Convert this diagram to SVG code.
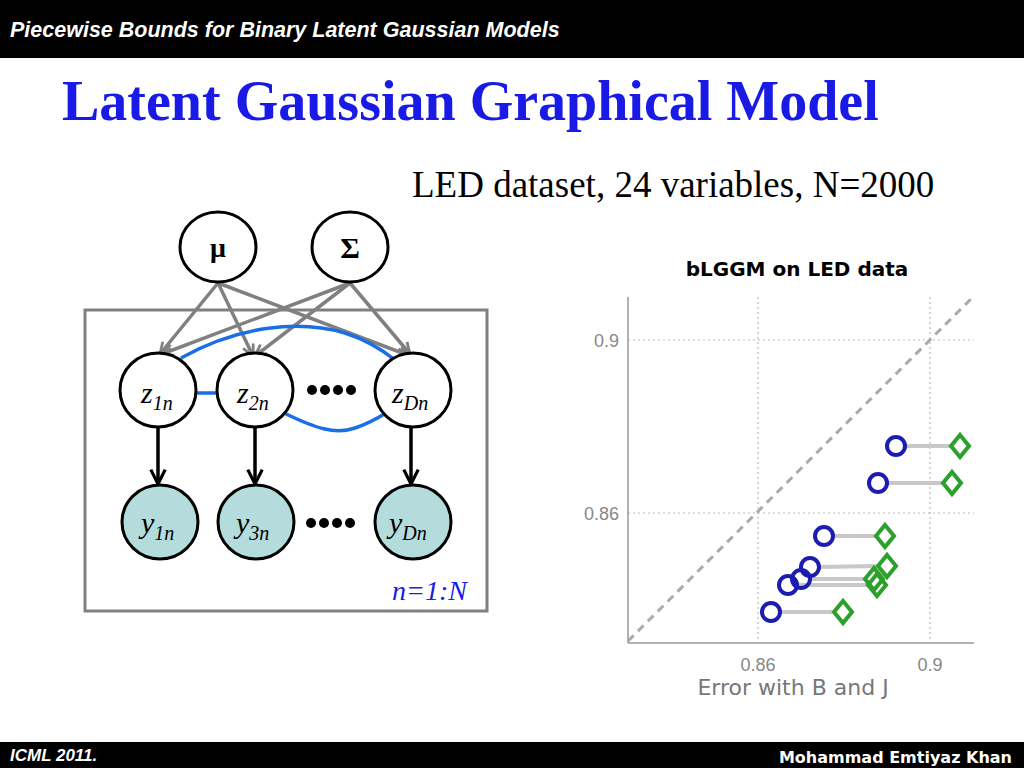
<svg xmlns="http://www.w3.org/2000/svg" width="1024" height="768" viewBox="0 0 1024 768">
<defs>
<marker id="ag" viewBox="0 0 10 10" refX="9" refY="5" markerWidth="14" markerHeight="14" orient="auto" markerUnits="userSpaceOnUse"><path d="M1,1 L9,5 L1,9" fill="none" stroke="#808080" stroke-width="2"/></marker>
<marker id="ab" viewBox="0 0 10 10" refX="9" refY="5" markerWidth="18" markerHeight="18" orient="auto" markerUnits="userSpaceOnUse"><path d="M1,1 L9,5 L1,9" fill="none" stroke="#000" stroke-width="1.8"/></marker>
<style>
.n{fill:#fff;stroke:#000;stroke-width:3}
.o{fill:#b4dcdc;stroke:#000;stroke-width:3}
.lbl{font-family:"Liberation Serif",serif;font-style:italic;font-size:30px}
.sub{font-size:20px}
.g{stroke:#808080;stroke-width:3.5;fill:none}
.b{stroke:#1a6ee6;stroke-width:3.5;fill:none}
.k{stroke:#000;stroke-width:3.5;fill:none}
.ax{font-family:"Liberation Sans",sans-serif;font-size:18px;fill:#888}
.c{fill:none;stroke:#1c1cb0;stroke-width:4}
.d{fill:none;stroke:#2ca02c;stroke-width:4}
.s{stroke:#c8c8c8;stroke-width:4}
</style>
</defs>
<rect width="1024" height="768" fill="#fff"/>
<rect x="0" y="0" width="1024" height="58" fill="#000"/>
<text x="10" y="37" font-family="Liberation Sans,sans-serif" font-style="italic" font-weight="bold" font-size="21.5" fill="#fff">Piecewise Bounds for Binary Latent Gaussian Models</text>
<rect x="0" y="742" width="1024" height="26" fill="#000"/>
<text x="10" y="761" font-family="Liberation Sans,sans-serif" font-style="italic" font-weight="bold" font-size="17" fill="#fff">ICML 2011.</text>
<text x="1012" y="763" text-anchor="end" font-family="DejaVu Sans,sans-serif" font-weight="bold" font-size="16" fill="#fff">Mohammad Emtiyaz Khan</text>
<text x="62" y="120" font-family="Liberation Serif,serif" font-weight="bold" font-size="56" fill="#1a1ae6">Latent Gaussian Graphical Model</text>
<text x="412" y="197" font-family="Liberation Serif,serif" font-size="37" fill="#000">LED dataset, 24 variables, N=2000</text>

<rect x="85" y="310" width="402" height="301" fill="none" stroke="#808080" stroke-width="3"/>
<g id="connectors">
<line class="g" x1="218" y1="283" x2="160" y2="354" marker-end="url(#ag)"/>
<line class="g" x1="218" y1="283" x2="253" y2="356" marker-end="url(#ag)"/>
<line class="g" x1="218" y1="283" x2="410" y2="356" marker-end="url(#ag)"/>
<line class="g" x1="350" y1="283" x2="162" y2="354" marker-end="url(#ag)"/>
<line class="g" x1="350" y1="283" x2="255" y2="356" marker-end="url(#ag)"/>
<line class="g" x1="350" y1="283" x2="410" y2="354" marker-end="url(#ag)"/>
<path class="b" d="M181,358 C240,325 300,320 345,333 C370,341 385,352 395,360"/>
<line class="b" x1="196" y1="393" x2="218" y2="393"/>
<path class="b" d="M284,413 C315,428 335,435 355,428 C370,423 378,418 386,413"/>
<line class="k" x1="158" y1="428" x2="158" y2="484" marker-end="url(#ab)"/>
<line class="k" x1="255" y1="428" x2="255" y2="484" marker-end="url(#ab)"/>
<line class="k" x1="411" y1="428" x2="411" y2="484" marker-end="url(#ab)"/>
</g>
<g id="mu"><ellipse class="n" cx="218" cy="247" rx="38" ry="35"/><text x="218" y="257" text-anchor="middle" font-family="Liberation Serif,serif" font-weight="bold" font-size="28">μ</text></g>
<g id="sigma"><ellipse class="n" cx="350" cy="247" rx="38" ry="35"/><text x="350" y="258" text-anchor="middle" font-family="Liberation Serif,serif" font-weight="bold" font-size="30">Σ</text></g>
<g id="z1"><ellipse class="n" cx="158" cy="390" rx="38" ry="37"/><text class="lbl" x="141" y="403">z<tspan class="sub" dy="7">1n</tspan></text></g>
<g id="z2"><ellipse class="n" cx="255" cy="390" rx="38" ry="37"/><text class="lbl" x="237" y="403">z<tspan class="sub" dy="7">2n</tspan></text></g>
<g id="zD"><ellipse class="n" cx="413" cy="390" rx="38" ry="37"/><text class="lbl" x="392" y="403">z<tspan class="sub" dy="7">Dn</tspan></text></g>
<g id="y1"><ellipse class="o" cx="160" cy="522" rx="38" ry="37"/><text class="lbl" x="141" y="533">y<tspan class="sub" dy="7">1n</tspan></text></g>
<g id="y3"><ellipse class="o" cx="256" cy="522" rx="38" ry="37"/><text class="lbl" x="236" y="533">y<tspan class="sub" dy="7">3n</tspan></text></g>
<g id="yD"><ellipse class="o" cx="413" cy="522" rx="38" ry="37"/><text class="lbl" x="389" y="533">y<tspan class="sub" dy="7">Dn</tspan></text></g>
<g fill="#000">
<circle cx="312" cy="390" r="5"/><circle cx="325" cy="390" r="5"/><circle cx="338" cy="390" r="5"/><circle cx="351" cy="390" r="5"/>
<circle cx="311" cy="523" r="5"/><circle cx="324" cy="523" r="5"/><circle cx="337" cy="523" r="5"/><circle cx="350" cy="523" r="5"/>
</g>
<text x="392" y="600" font-family="Liberation Serif,serif" font-style="italic" font-size="28" fill="#1a1ae6">n=1:N</text>

<g id="plot">
<text x="797" y="276" text-anchor="middle" font-family="DejaVu Sans,sans-serif" font-weight="bold" font-size="20">bLGGM on LED data</text>
<g stroke="#bbb" stroke-width="1.2" stroke-dasharray="2,3">
<line x1="758" y1="297" x2="758" y2="643"/><line x1="930" y1="297" x2="930" y2="643"/>
<line x1="628" y1="340" x2="974" y2="340"/><line x1="628" y1="513" x2="974" y2="513"/>
</g>
<line x1="628" y1="297" x2="628" y2="643" stroke="#999" stroke-width="1.5"/>
<line x1="628" y1="643" x2="974" y2="643" stroke="#999" stroke-width="1.5"/>
<line x1="628" y1="641" x2="974" y2="296" stroke="#aaa" stroke-width="3" stroke-dasharray="8,6"/>
<text class="ax" x="619" y="347" text-anchor="end">0.9</text>
<text class="ax" x="619" y="520" text-anchor="end">0.86</text>
<text class="ax" x="758" y="671" text-anchor="middle">0.86</text>
<text class="ax" x="930" y="671" text-anchor="middle">0.9</text>
<text x="793" y="695" text-anchor="middle" font-family="DejaVu Sans,sans-serif" font-size="22" fill="#777">Error with B and J</text>
<line class="s" x1="905" y1="446" x2="951" y2="446"/>
<line class="s" x1="887" y1="483" x2="943" y2="483"/>
<line class="s" x1="833" y1="536" x2="876" y2="536"/>
<line class="s" x1="819" y1="567" x2="878" y2="566"/>
<line class="s" x1="810" y1="579" x2="865" y2="579"/>
<line class="s" x1="797" y1="585" x2="868" y2="585"/>
<line class="s" x1="780" y1="612" x2="834" y2="612"/>
<circle class="c" cx="896" cy="446" r="9"/><circle class="c" cx="878" cy="483" r="9"/>
<circle class="c" cx="824" cy="536" r="9"/><circle class="c" cx="810" cy="567" r="9"/>
<circle class="c" cx="788" cy="585" r="9"/><circle class="c" cx="801" cy="579" r="9"/>
<circle class="c" cx="771" cy="612" r="9"/>
<path class="d" d="M960,435 l9,11 l-9,11 l-9,-11z"/>
<path class="d" d="M952,472 l9,11 l-9,11 l-9,-11z"/>
<path class="d" d="M885,525 l9,11 l-9,11 l-9,-11z"/>
<path class="d" d="M887,555 l9,11 l-9,11 l-9,-11z"/>
<path class="d" d="M877,574 l9,11 l-9,11 l-9,-11z"/>
<path class="d" d="M874,568 l9,11 l-9,11 l-9,-11z"/>
<path class="d" d="M843,601 l9,11 l-9,11 l-9,-11z"/>
</g>
</svg>
